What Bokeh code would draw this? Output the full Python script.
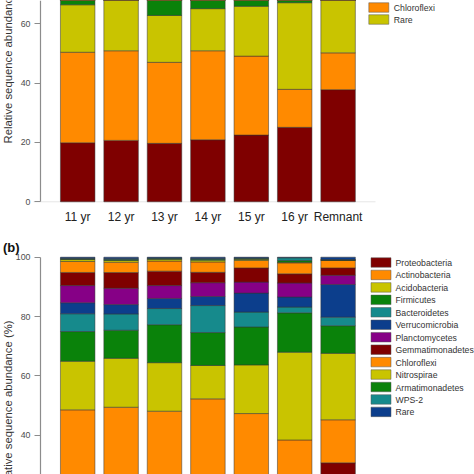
from math import pi

from bokeh.core.properties import value
from bokeh.embed import file_html
from bokeh.layouts import column
from bokeh.models import ColumnDataSource, FixedTicker, LinearAxis, Range1d
from bokeh.plotting import figure
from bokeh.resources import INLINE

# ---------------------------------------------------------------- data
sites = ["11 yr", "12 yr", "13 yr", "14 yr", "15 yr", "16 yr", "Remnant"]
y_ticks = [0, 20, 40, 60, 80, 100]

# (a) relative sequence abundance (%) per group, stacked bottom -> top
phyla_a = ["Proteobacteria", "Actinobacteria", "Acidobacteria", "Firmicutes",
           "Bacteroidetes", "Verrucomicrobia", "Planctomycetes",
           "Gemmatimonadetes", "Chloroflexi", "Rare"]
a_proteobacteria = [19.9, 20.7, 19.7, 20.9, 22.5, 25.1, 37.8]
a_actinobacteria = [30.5, 30.2, 27.3, 30.0, 26.6, 12.8, 12.4]
a_acidobacteria = [16.0, 17.6, 15.8, 14.2, 16.8, 29.2, 20.4]
a_firmicutes = [10.5, 9.0, 13.0, 11.0, 12.0, 13.0, 9.0]
a_bacteroidetes = [6.0, 5.5, 5.5, 9.0, 5.0, 2.0, 3.0]
a_verrucomicrobia = [3.7, 3.2, 3.4, 3.0, 6.4, 3.4, 10.0]
a_planctomycetes = [5.8, 5.5, 4.4, 4.6, 3.7, 4.7, 3.0]
a_gemmatimonadetes = [4.4, 5.3, 4.8, 3.5, 4.8, 3.1, 2.4]
a_chloroflexi = [2.3, 2.2, 3.9, 2.6, 1.5, 5.0, 1.2]
a_rare = [0.9, 0.8, 2.2, 1.2, 0.7, 1.7, 0.8]

# (b) relative sequence abundance (%) per phylum, stacked bottom -> top
phyla_b = ["Proteobacteria", "Actinobacteria", "Acidobacteria", "Firmicutes",
           "Bacteroidetes", "Verrucomicrobia", "Planctomycetes",
           "Gemmatimonadetes", "Chloroflexi", "Nitrospirae",
           "Armatimonadetes", "WPS-2", "Rare"]
b_proteobacteria = [22.0, 23.0, 21.5, 24.0, 23.5, 25.5, 30.7]
b_actinobacteria = [26.55, 26.43, 26.6, 28.25, 23.8, 12.9, 14.5]
b_acidobacteria = [16.4, 16.5, 16.35, 11.25, 16.4, 29.6, 22.4]
b_firmicutes = [10.0, 9.45, 12.8, 11.1, 12.8, 13.25, 9.3]
b_bacteroidetes = [6.0, 5.5, 5.45, 9.1, 5.0, 1.95, 2.9]
b_verrucomicrobia = [3.7, 3.15, 3.4, 3.05, 6.4, 3.4, 11.0]
b_planctomycetes = [5.8, 5.5, 4.35, 4.65, 3.7, 4.7, 3.1]
b_gemmatimonadetes = [4.4, 5.3, 4.85, 3.5, 4.8, 3.1, 2.5]
b_chloroflexi = [3.7, 3.47, 3.4, 3.5, 2.5, 3.7, 2.5]
b_nitrospirae = [0.65, 0.6, 0.6, 0.6, 0.4, 0.2, 0.1]
b_armatimonadetes = [0.25, 0.3, 0.2, 0.3, 0.2, 0.6, 0.1]
b_wps2 = [0.2, 0.3, 0.2, 0.3, 0.2, 0.9, 0.1]
b_rare = [0.35, 0.5, 0.3, 0.4, 0.3, 0.2, 0.8]

# ---------------------------------------------------------------- style
FONT = "Liberation Sans"
CYCLE = ["#7f0000", "#ff8a00", "#c9c400", "#0a820a", "#168a8c", "#0c3e8c", "#860086"]
W = 474
PX_PER_UNIT = 2.967          # vertical scale, pixels per percent
BAR_STEP = 43.4              # horizontal distance between bar centres (px)
FIRST_BAR_X = 77.2           # px from the left edge to the first bar centre
AXIS_X = 40                  # px from the left edge to the value axis

x_pos = list(range(1, len(sites) + 1))
x_start = 1 - FIRST_BAR_X / BAR_STEP
x_end = x_start + W / BAR_STEP
axis_x = x_start + AXIS_X / BAR_STEP

Y_CAPTION = "Relative sequence abundance (%)"


def make_panel(height, top_px, zero_px, phyla, series):
    """Panel whose plotting frame fills the whole canvas.

    top_px: page y of the canvas top; zero_px: page y where 0 % sits."""
    y_lo = -(top_px + height - zero_px) / PX_PER_UNIT
    y_hi = (zero_px - top_px) / PX_PER_UNIT
    p = figure(width=W, height=height, output_backend="svg", toolbar_location=None,
               x_range=Range1d(x_start, x_end), y_range=Range1d(y_lo, y_hi),
               x_axis_location=None, y_axis_location=None,
               min_border=0, min_border_left=0, min_border_right=0,
               min_border_top=0, min_border_bottom=0)
    p.outline_line_color = None
    p.grid.visible = False
    p.background_fill_color = "white"
    p.border_fill_color = "white"
    # page-pixel helper ranges for the key and the captions
    p.extra_x_ranges = {"px": Range1d(0, W)}
    p.extra_y_ranges = {"px": Range1d(top_px + height, top_px)}

    data = {"x": x_pos}
    data.update(series)
    src = ColumnDataSource(data)
    colors = [CYCLE[i % len(CYCLE)] for i in range(len(phyla))]
    p.vbar_stack(phyla, x="x", width=0.795, color=colors, source=src,
                 line_color="#333333", line_width=0.6, line_alpha=0.85)

    ax = LinearAxis(fixed_location=axis_x, bounds=(0, 100),
                    ticker=FixedTicker(ticks=y_ticks))
    ax.axis_line_color = "#8c8c8c"
    ax.axis_line_width = 1.2
    ax.major_tick_line_color = "#8c8c8c"
    ax.major_tick_line_width = 1.2
    ax.major_tick_out = 6
    ax.major_tick_in = 0
    ax.minor_tick_line_color = None
    ax.major_label_text_font = FONT
    ax.major_label_text_font_size = "8.8px"
    ax.major_label_text_color = "#4d4d4d"
    ax.major_label_standoff = 4
    p.add_layout(ax, "left")
    return p, colors


def draw_key(p, phyla, colors, box_cx, text_x, first_cy, step, top_limit):
    cys = [first_cy + i * step for i in range(len(phyla))]
    vis = [i for i, cy in enumerate(cys) if cy + 4.75 > top_limit]
    p.rect(x=[box_cx] * len(vis), y=[cys[i] for i in vis], width=20, height=9.5,
           fill_color=[colors[i] for i in vis], line_color="#555555", line_width=0.5,
           x_range_name="px", y_range_name="px")
    tv = [i for i in vis if cys[i] - 3 > top_limit]
    p.text(x=[text_x] * len(tv), y=[cys[i] + 0.5 for i in tv], text=[phyla[i] for i in tv],
           text_font=value(FONT), text_font_size="8.7px", text_color="#333333",
           text_align="left", text_baseline="middle",
           x_range_name="px", y_range_name="px")


def caption(p, y, align):
    p.text(x=[7.5], y=[y], text=[Y_CAPTION], angle=pi / 2,
           text_font=value(FONT), text_font_size="11.3px", text_color="#333333",
           text_align=align, text_baseline="middle",
           x_range_name="px", y_range_name="px")


# ---------------------------------------------------------------- panel (a)
H_A = 230
series_a = dict(zip(phyla_a, [a_proteobacteria, a_actinobacteria, a_acidobacteria,
                              a_firmicutes, a_bacteroidetes, a_verrucomicrobia,
                              a_planctomycetes, a_gemmatimonadetes, a_chloroflexi, a_rare]))
pa, cols_a = make_panel(H_A, 0, 201.3, phyla_a, series_a)

# faint base line under the bars
pa.segment(x0=[33], x1=[375], y0=[201.3], y1=[201.3], line_color="#e6e6e6",
           line_width=1, x_range_name="px", y_range_name="px", level="underlay")

xa = LinearAxis(fixed_location=0, ticker=FixedTicker(ticks=x_pos))
xa.major_label_overrides = {x: s for x, s in zip(x_pos, sites)}
xa.axis_line_color = None
xa.major_tick_line_color = None
xa.minor_tick_line_color = None
xa.major_label_text_font = FONT
xa.major_label_text_font_size = "12px"
xa.major_label_text_color = "#222222"
xa.major_label_standoff = 2
pa.add_layout(xa, "below")

caption(pa, 143, "left")
draw_key(pa, phyla_a, cols_a, 378.3, 393.3, 19.0 - 9 * 12.0, 12.0, 0)

# ---------------------------------------------------------------- panel (b)
H_B = 244
series_b = dict(zip(phyla_b, [b_proteobacteria, b_actinobacteria, b_acidobacteria,
                              b_firmicutes, b_bacteroidetes, b_verrucomicrobia,
                              b_planctomycetes, b_gemmatimonadetes, b_chloroflexi,
                              b_nitrospirae, b_armatimonadetes, b_wps2, b_rare]))
pb, cols_b = make_panel(H_B, H_A, 256.7 + 100 * PX_PER_UNIT, phyla_b, series_b)

caption(pb, 320, "right")
pb.text(x=[2.5], y=[247.3], text=["(b)"], text_font=value(FONT), text_font_size="13px",
        text_font_style="bold", text_color="#111111", text_align="left",
        text_baseline="alphabetic", x_range_name="px", y_range_name="px")
draw_key(pb, phyla_b, cols_b, 380.5, 395.0, 262.0, 12.45, H_A)

layout = column(pa, pb, spacing=0)
open("out.html", "w").write(file_html(layout, INLINE))
